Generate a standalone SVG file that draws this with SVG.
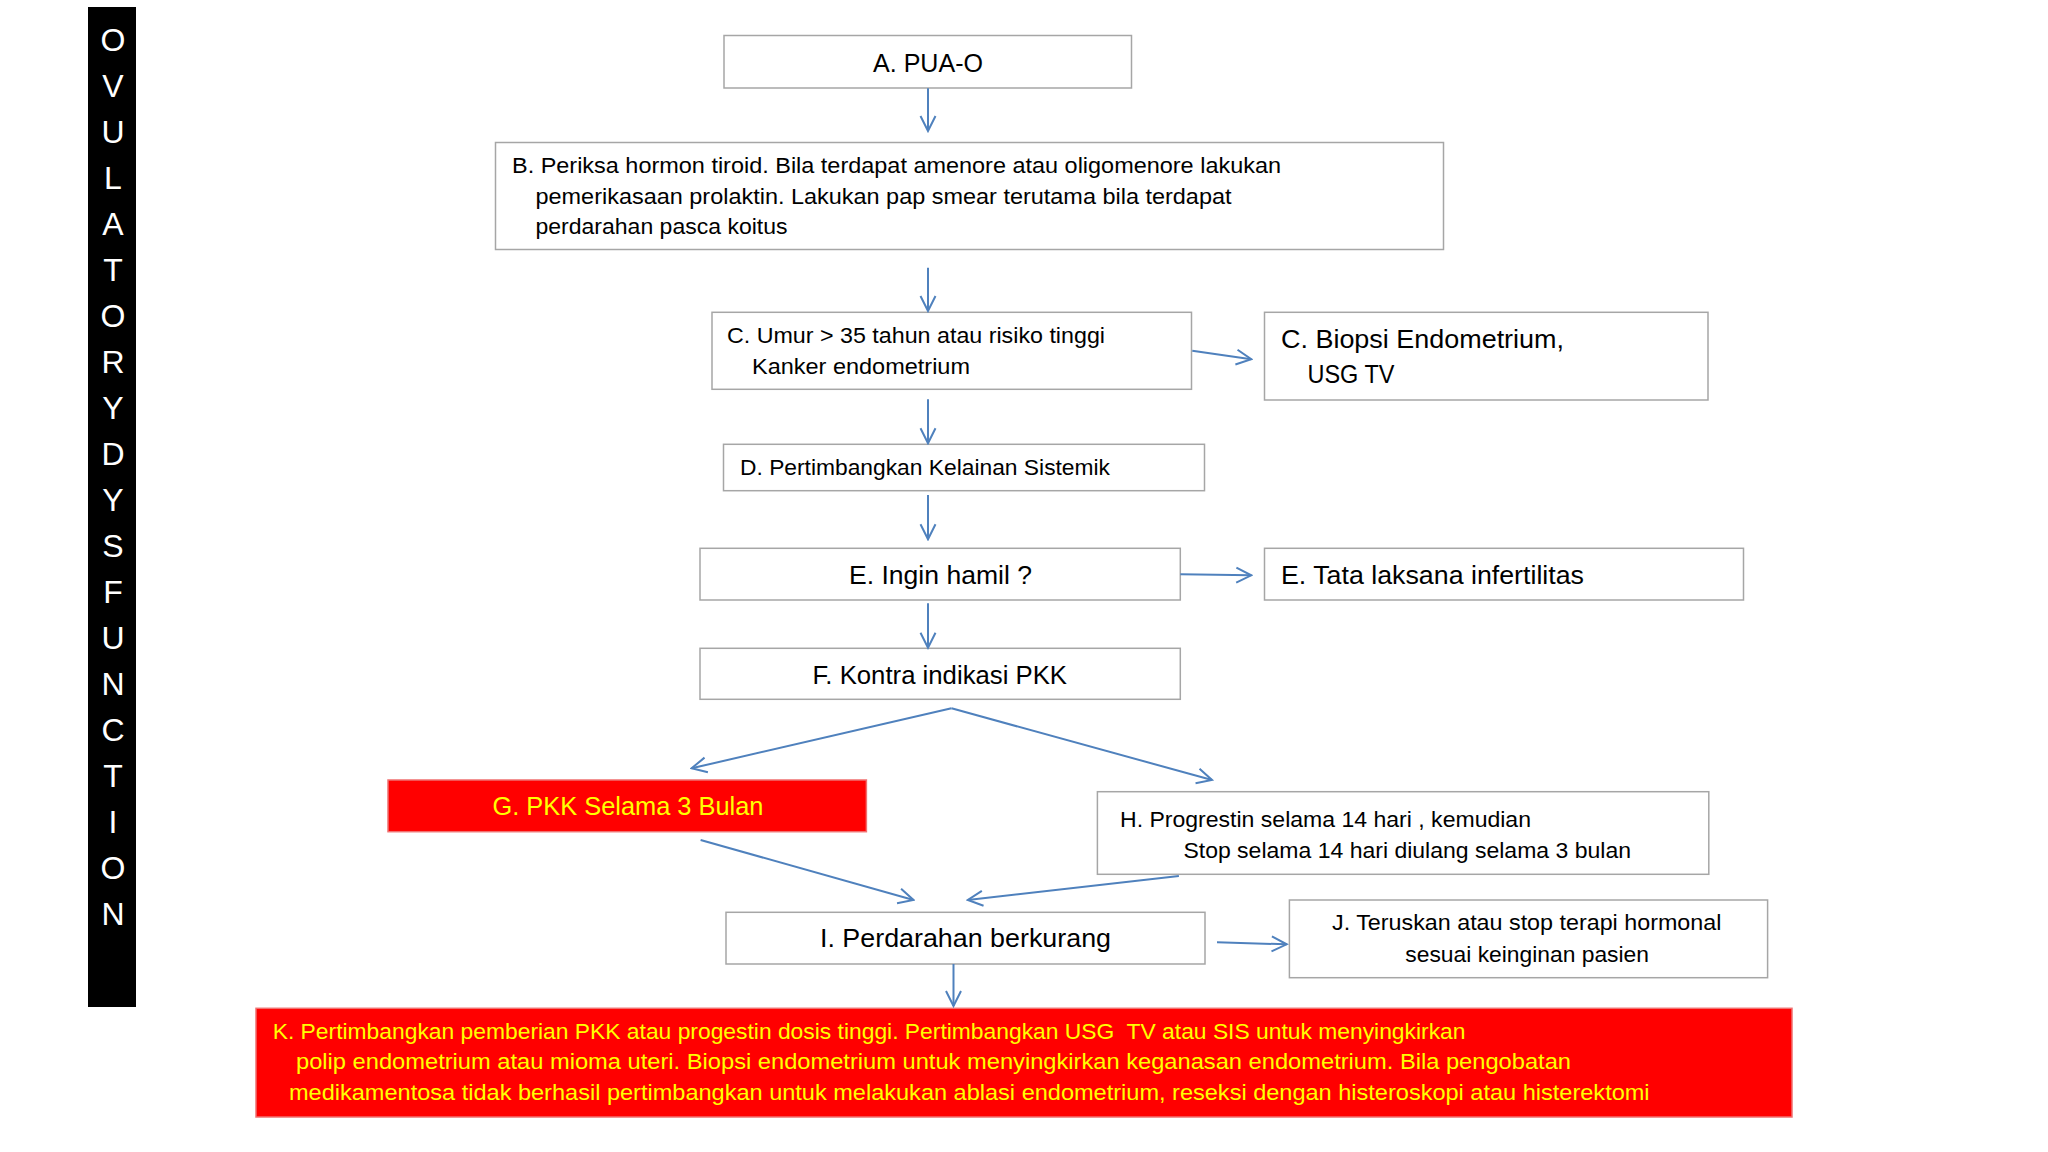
<svg xmlns="http://www.w3.org/2000/svg" width="2048" height="1152" viewBox="0 0 2048 1152">
<defs>
<style>
.box{fill:#ffffff;stroke:#a6a6a6;stroke-width:1.5}
.red{fill:#ff0000;stroke:#f07070;stroke-width:1.5}
.t{font-family:"Liberation Sans",Arial,sans-serif;fill:#000000}
.s{font-size:22px}
.l{font-size:26.5px}
.y{fill:#ffff00}
.v{font-family:"Liberation Sans",Arial,sans-serif;font-size:32px;fill:#ffffff;text-anchor:middle}
.c{fill:none;stroke:#4f81bd;stroke-width:2}
</style>
<marker id="arr" viewBox="-18 -10 20 20" refX="0" refY="0" markerWidth="20" markerHeight="20" markerUnits="userSpaceOnUse" orient="auto">
<path d="M-15,-7.5 L0,0 L-15,7.5" fill="none" stroke="#4f81bd" stroke-width="2"/>
</marker>
</defs>
<rect width="2048" height="1152" fill="#ffffff"/>

<g id="sidebar">
<rect x="88" y="7" width="48" height="1000" fill="#000000"/>
<text class="v" x="113" y="50.7">O</text>
<text class="v" x="113" y="96.7">V</text>
<text class="v" x="113" y="142.8">U</text>
<text class="v" x="113" y="188.8">L</text>
<text class="v" x="113" y="234.8">A</text>
<text class="v" x="113" y="280.9">T</text>
<text class="v" x="113" y="326.9">O</text>
<text class="v" x="113" y="372.9">R</text>
<text class="v" x="113" y="418.9">Y</text>
<text class="v" x="113" y="465.0">D</text>
<text class="v" x="113" y="511.0">Y</text>
<text class="v" x="113" y="557.0">S</text>
<text class="v" x="113" y="603.1">F</text>
<text class="v" x="113" y="649.1">U</text>
<text class="v" x="113" y="695.1">N</text>
<text class="v" x="113" y="741.2">C</text>
<text class="v" x="113" y="787.2">T</text>
<text class="v" x="113" y="833.2">I</text>
<text class="v" x="113" y="879.2">O</text>
<text class="v" x="113" y="925.2">N</text>
</g>

<g id="nodeA">
<rect class="box" x="724" y="35.5" width="407.5" height="52.5"/>
<text class="t l" x="873" y="72" textLength="110" lengthAdjust="spacingAndGlyphs">A. PUA-O</text>
</g>

<g id="nodeB">
<rect class="box" x="495.5" y="142.5" width="948" height="107"/>
<text class="t s" x="512" y="173" textLength="769" lengthAdjust="spacingAndGlyphs">B. Periksa hormon tiroid. Bila terdapat amenore atau oligomenore lakukan</text>
<text class="t s" x="535.5" y="203.5" textLength="696" lengthAdjust="spacingAndGlyphs">pemerikasaan prolaktin. Lakukan pap smear terutama bila terdapat</text>
<text class="t s" x="535.5" y="234" textLength="252" lengthAdjust="spacingAndGlyphs">perdarahan pasca koitus</text>
</g>

<g id="nodeC">
<rect class="box" x="712" y="312.3" width="479.5" height="77"/>
<text class="t s" x="727" y="343" textLength="378" lengthAdjust="spacingAndGlyphs">C. Umur &gt; 35 tahun atau risiko tinggi</text>
<text class="t s" x="752" y="374" textLength="218" lengthAdjust="spacingAndGlyphs">Kanker endometrium</text>
</g>

<g id="nodeC2">
<rect class="box" x="1264.5" y="312.3" width="443.5" height="87.7"/>
<text class="t l" x="1281" y="348" textLength="283" lengthAdjust="spacingAndGlyphs">C. Biopsi Endometrium,</text>
<text class="t l" x="1307.5" y="383" textLength="87" lengthAdjust="spacingAndGlyphs">USG TV</text>
</g>

<g id="nodeD">
<rect class="box" x="723.5" y="444.3" width="481" height="46.4"/>
<text class="t s" x="740" y="475" textLength="370" lengthAdjust="spacingAndGlyphs">D. Pertimbangkan Kelainan Sistemik</text>
</g>

<g id="nodeE">
<rect class="box" x="700" y="548.3" width="480.3" height="51.7"/>
<text class="t l" x="849" y="583.5" textLength="183" lengthAdjust="spacingAndGlyphs">E. Ingin hamil ?</text>
</g>

<g id="nodeE2">
<rect class="box" x="1264.5" y="548.3" width="479" height="51.7"/>
<text class="t l" x="1281" y="583.5" textLength="303" lengthAdjust="spacingAndGlyphs">E. Tata laksana infertilitas</text>
</g>

<g id="nodeF">
<rect class="box" x="700" y="648.3" width="480.3" height="51"/>
<text class="t l" x="812.5" y="683.5" textLength="254.5" lengthAdjust="spacingAndGlyphs">F. Kontra indikasi PKK</text>
</g>

<g id="nodeG">
<rect class="red" x="388" y="780" width="478.4" height="51.7"/>
<text class="t l y" x="492.5" y="815" textLength="271" lengthAdjust="spacingAndGlyphs">G. PKK Selama 3 Bulan</text>
</g>

<g id="nodeH">
<rect class="box" x="1097.4" y="791.7" width="611.4" height="82.6"/>
<text class="t s" x="1120" y="827.3" textLength="411" lengthAdjust="spacingAndGlyphs">H. Progrestin selama 14 hari , kemudian</text>
<text class="t s" x="1183.4" y="858.3" textLength="447.6" lengthAdjust="spacingAndGlyphs">Stop selama 14 hari diulang selama 3 bulan</text>
</g>

<g id="nodeI">
<rect class="box" x="726" y="912.3" width="479" height="51.7"/>
<text class="t l" x="820" y="947" textLength="291" lengthAdjust="spacingAndGlyphs">I. Perdarahan berkurang</text>
</g>

<g id="nodeJ">
<rect class="box" x="1289.4" y="900" width="478.2" height="77.7"/>
<text class="t s" x="1332" y="930" textLength="389.4" lengthAdjust="spacingAndGlyphs">J. Teruskan atau stop terapi hormonal</text>
<text class="t s" x="1405.3" y="961.7" textLength="243.7" lengthAdjust="spacingAndGlyphs">sesuai keinginan pasien</text>
</g>

<g id="nodeK">
<rect class="red" x="256" y="1008.3" width="1536" height="108.7"/>
<text class="t s y" x="272.7" y="1038.6" textLength="1192.8" lengthAdjust="spacingAndGlyphs" xml:space="preserve">K. Pertimbangkan pemberian PKK atau progestin dosis tinggi. Pertimbangkan USG  TV atau SIS untuk menyingkirkan</text>
<text class="t s y" x="296" y="1069.3" textLength="1275" lengthAdjust="spacingAndGlyphs">polip endometrium atau mioma uteri. Biopsi endometrium untuk menyingkirkan keganasan endometrium. Bila pengobatan</text>
<text class="t s y" x="289" y="1100" textLength="1360.6" lengthAdjust="spacingAndGlyphs">medikamentosa tidak berhasil pertimbangkan untuk melakukan ablasi endometrium, reseksi dengan histeroskopi atau histerektomi</text>
</g>

<g id="connectors">
<line class="c" x1="928" y1="88.3" x2="928" y2="131" marker-end="url(#arr)"/>
<line class="c" x1="928" y1="267.7" x2="928" y2="311" marker-end="url(#arr)"/>
<line class="c" x1="1192.3" y1="350.7" x2="1251.3" y2="359.3" marker-end="url(#arr)"/>
<line class="c" x1="928" y1="399.3" x2="928" y2="443.3" marker-end="url(#arr)"/>
<line class="c" x1="928" y1="495" x2="928" y2="539.3" marker-end="url(#arr)"/>
<line class="c" x1="1180.3" y1="574.3" x2="1251.3" y2="575.3" marker-end="url(#arr)"/>
<line class="c" x1="928" y1="603.3" x2="928" y2="647.7" marker-end="url(#arr)"/>
<line class="c" x1="951.5" y1="708.3" x2="691.6" y2="768.3" marker-end="url(#arr)"/>
<line class="c" x1="951.5" y1="708.3" x2="1212" y2="780" marker-end="url(#arr)"/>
<line class="c" x1="700.6" y1="840" x2="913.5" y2="900" marker-end="url(#arr)"/>
<line class="c" x1="1178.9" y1="876" x2="967.8" y2="900" marker-end="url(#arr)"/>
<line class="c" x1="1217" y1="942.3" x2="1286.7" y2="944.3" marker-end="url(#arr)"/>
<line class="c" x1="953.5" y1="964" x2="953.5" y2="1006" marker-end="url(#arr)"/>
</g>
</svg>
